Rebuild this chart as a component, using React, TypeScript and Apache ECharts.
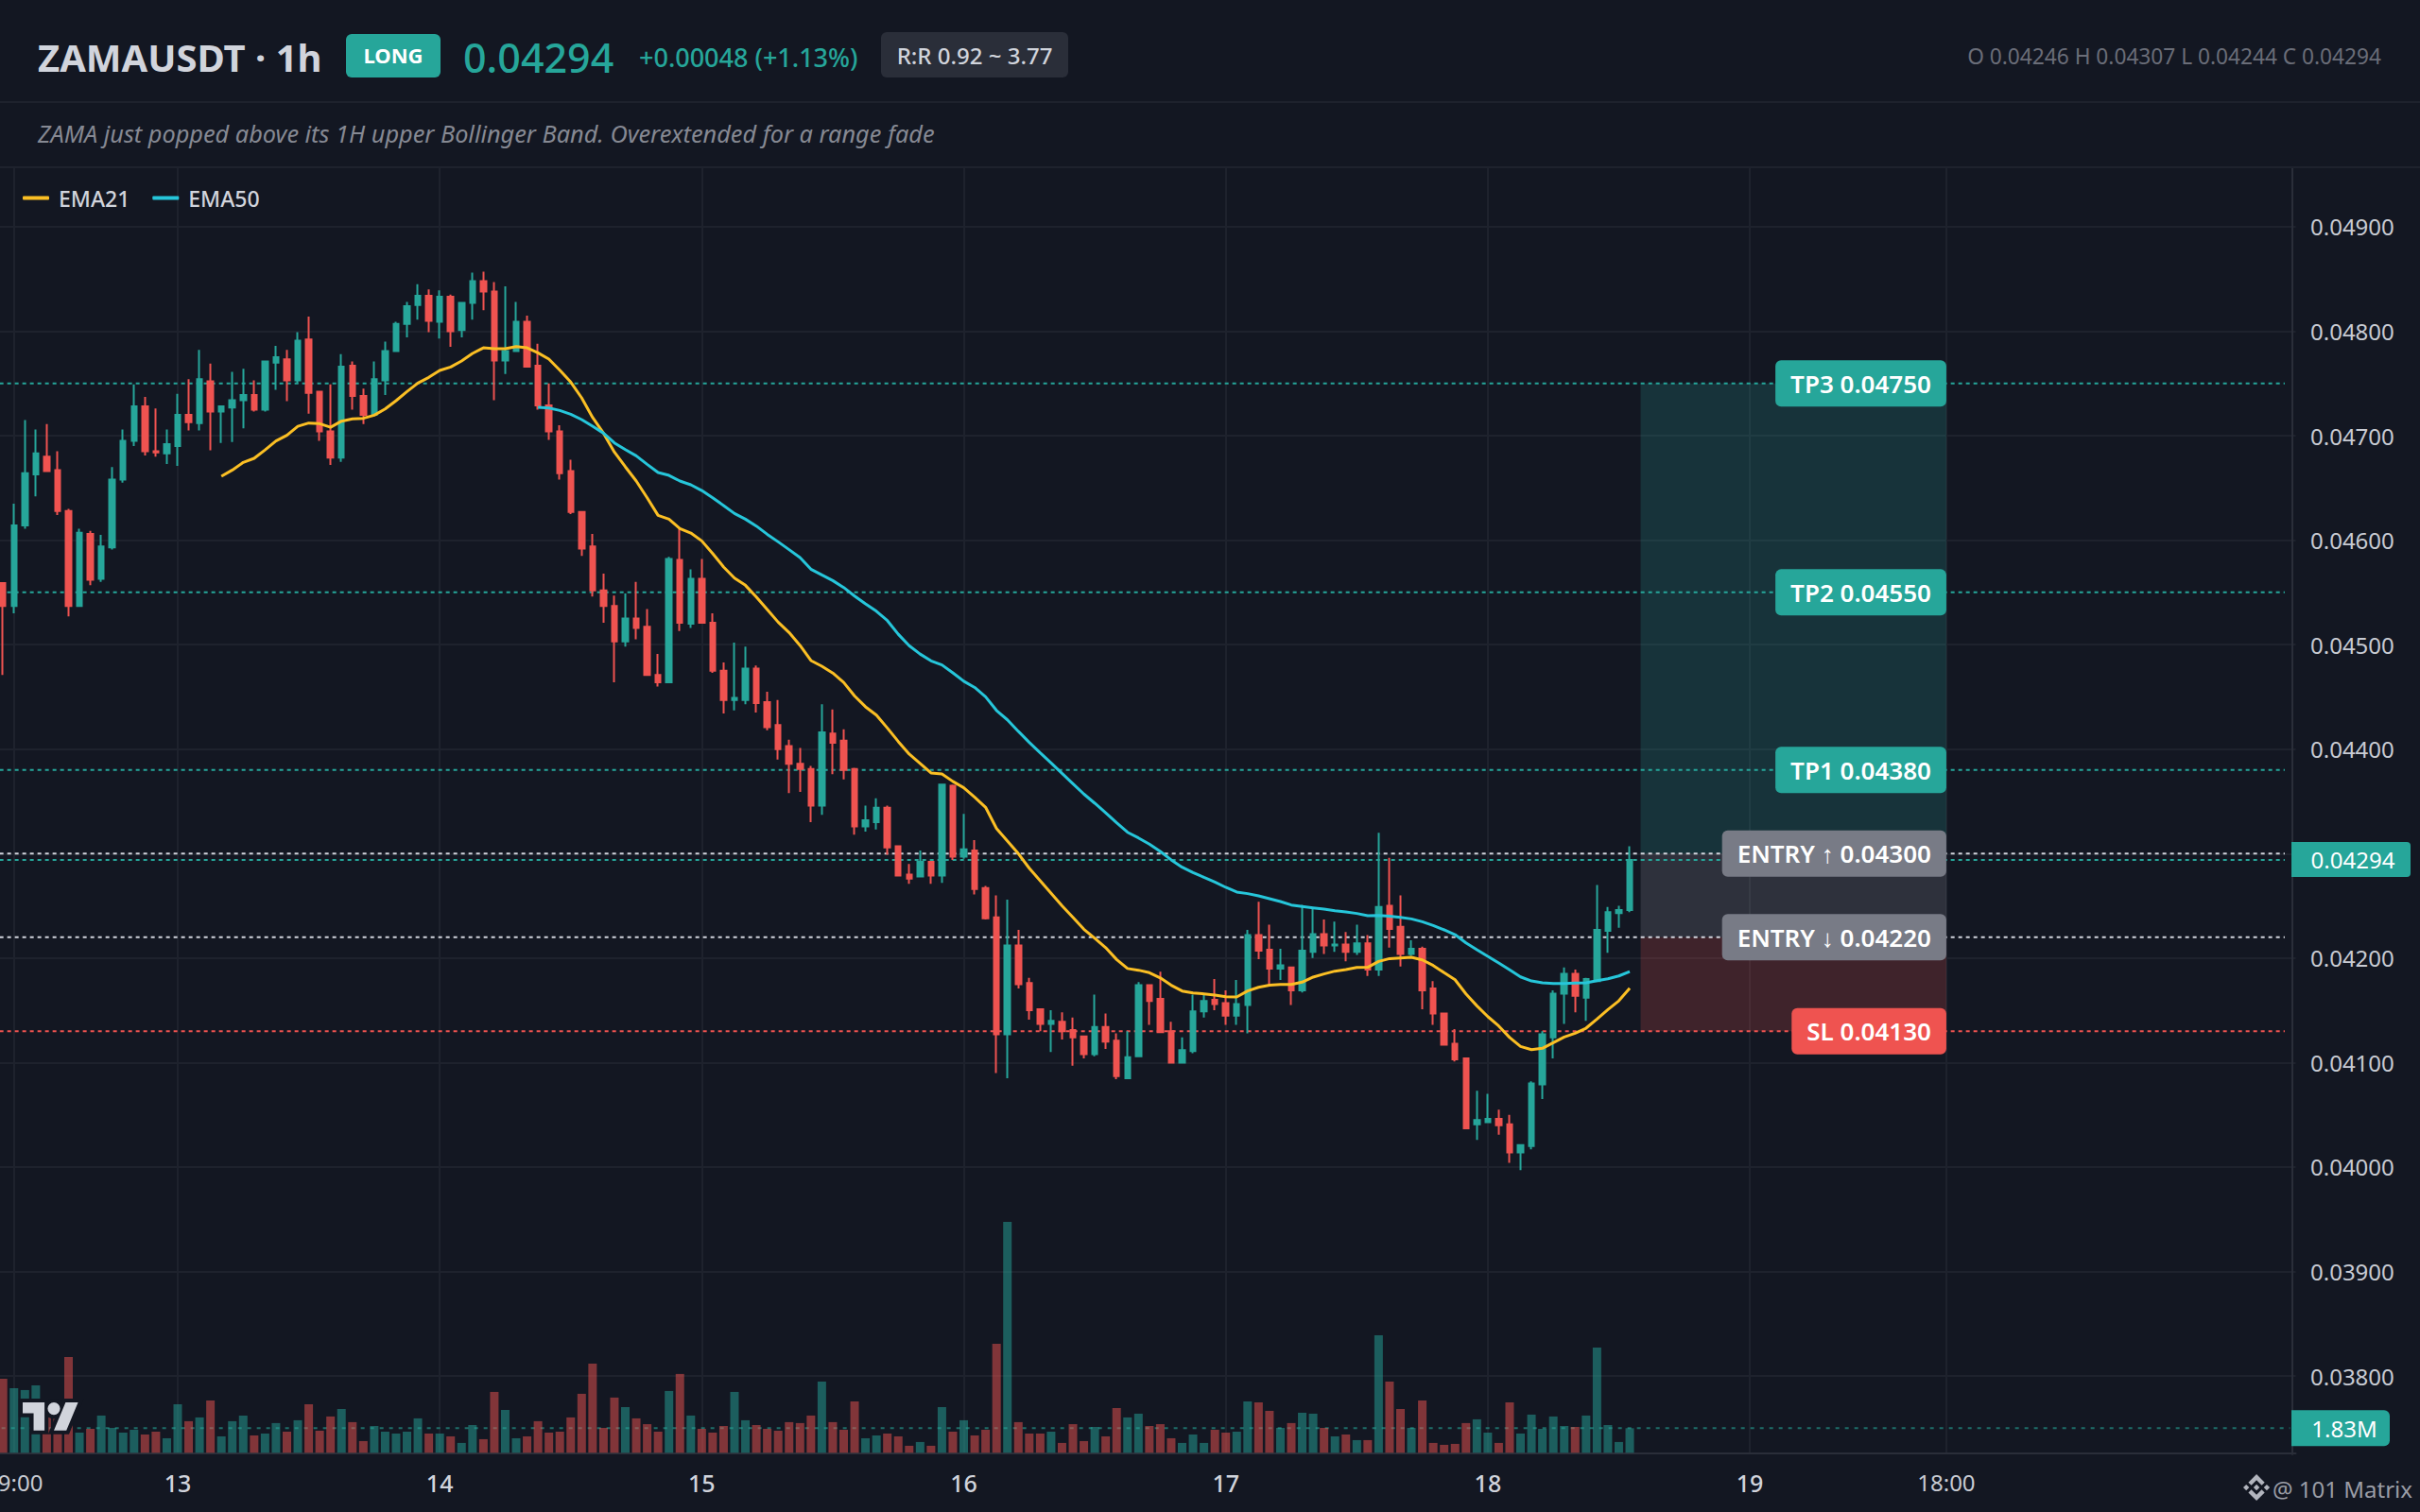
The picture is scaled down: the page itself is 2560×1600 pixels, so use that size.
import React, { useEffect, useRef } from "react";
import * as echarts from "echarts";

// ---------- data (prices in 1/100000 units, volumes in millions) ----------
const tickLabels: Record<number, string> = { 2: "09:00", 17: "13", 41: "14", 65: "15", 89: "16", 113: "17", 137: "18", 161: "19", 179: "18:00" };
const priceTicks = [3800, 3900, 4000, 4100, 4200, 4300, 4400, 4500, 4600, 4700, 4800, 4900];
const priceLabels = [3800, 3900, 4000, 4100, 4200, 4400, 4500, 4600, 4700, 4800, 4900];

// [open, high, low, close]
const ohlc: number[][] = [
[4559,4559,4471,4537],[4537,4635,4530,4614],[4614,4715,4611,4664],[4663,4706,4642,4683],[4680,4711,4666,4666],
[4667,4685,4624,4628],[4628,4630,4527,4537],[4537,4611,4537,4607],[4606,4609,4557,4562],[4563,4605,4560,4594],
[4593,4670,4591,4658],[4658,4706,4655,4695],[4695,4749,4690,4728],[4728,4737,4681,4685],[4685,4726,4680,4684],
[4683,4706,4673,4692],[4690,4740,4671,4720],[4720,4754,4705,4713],[4712,4782,4705,4754],[4752,4769,4686,4723],
[4723,4728,4693,4728],[4727,4761,4694,4734],[4734,4764,4707,4739],[4739,4753,4723,4725],[4725,4772,4723,4771],
[4770,4786,4744,4775],[4773,4782,4733,4753],[4753,4799,4750,4791],[4792,4814,4721,4741],[4742,4742,4695,4704],
[4704,4749,4672,4679],[4679,4778,4675,4766],[4767,4771,4725,4738],[4738,4745,4711,4720],[4720,4771,4719,4754],
[4753,4790,4739,4781],[4781,4809,4780,4807],[4807,4828,4794,4824],[4825,4845,4811,4834],[4834,4840,4799,4810],
[4809,4839,4793,4833],[4833,4835,4785,4800],[4801,4828,4794,4827],[4827,4856,4811,4848],[4848,4857,4820,4838],
[4838,4847,4734,4772],[4772,4843,4759,4781],[4781,4828,4780,4809],[4809,4815,4766,4766],[4767,4788,4725,4729],
[4729,4750,4696,4704],[4704,4710,4658,4664],[4666,4677,4625,4627],[4627,4628,4585,4592],[4594,4606,4546,4552],
[4552,4568,4521,4537],[4537,4547,4464,4503],[4503,4549,4498,4525],[4525,4560,4505,4516],[4517,4534,4470,4471],
[4471,4491,4460,4464],[4464,4584,4464,4582],[4581,4611,4513,4521],[4520,4572,4516,4563],[4563,4582,4521,4521],
[4521,4530,4473,4475],[4475,4483,4434,4447],[4447,4502,4437,4449],[4447,4498,4443,4477],[4477,4480,4435,4444],
[4445,4455,4418,4421],[4423,4447,4390,4400],[4403,4409,4358,4386],[4386,4401,4359,4381],[4381,4384,4330,4346],
[4346,4443,4337,4416],[4415,4438,4376,4406],[4408,4419,4371,4380],[4381,4382,4318,4326],[4326,4346,4321,4332],
[4330,4353,4323,4344],[4344,4346,4299,4306],[4307,4308,4278,4279],[4280,4290,4271,4276],[4278,4303,4278,4292],
[4292,4293,4271,4279],[4279,4367,4272,4366],[4365,4366,4294,4297],[4297,4338,4295,4304],[4303,4313,4261,4266],
[4267,4269,4237,4238],[4239,4260,4090,4127],[4127,4256,4085,4212],[4212,4227,4171,4175],[4176,4181,4141,4150],
[4151,4152,4130,4137],[4137,4150,4110,4140],[4139,4148,4122,4130],[4131,4143,4097,4124],[4125,4125,4104,4108],
[4108,4165,4106,4134],[4134,4147,4113,4120],[4121,4128,4084,4087],[4085,4130,4085,4105],[4106,4177,4106,4174],
[4174,4175,4136,4159],[4161,4187,4129,4129],[4130,4139,4100,4100],[4100,4124,4100,4112],[4111,4165,4109,4149],
[4149,4165,4143,4159],[4160,4180,4150,4156],[4157,4169,4136,4145],[4145,4179,4136,4156],[4155,4227,4128,4222],
[4222,4254,4199,4207],[4208,4232,4174,4190],[4190,4209,4179,4193],[4191,4191,4155,4169],[4169,4251,4167,4207],
[4206,4248,4200,4223],[4223,4237,4204,4212],[4212,4235,4206,4213],[4213,4225,4197,4206],[4206,4232,4203,4214],
[4214,4222,4183,4189],[4189,4320,4183,4249],[4250,4296,4210,4228],[4230,4260,4192,4204],[4204,4217,4202,4209],
[4209,4211,4151,4169],[4171,4178,4136,4147],[4147,4147,4117,4117],[4118,4132,4101,4103],[4104,4104,4037,4037],
[4041,4073,4026,4045],[4043,4070,4042,4046],[4046,4055,4031,4040],[4041,4050,4004,4014],[4014,4022,3997,4021],
[4020,4082,4017,4080],[4079,4130,4065,4127],[4124,4169,4104,4166],[4166,4191,4137,4185],[4185,4189,4148,4164],
[4162,4181,4140,4180],[4178,4270,4178,4227],[4226,4249,4205,4244],[4243,4250,4229,4246],[4246,4307,4244,4294],
];

const volumes: number[] = [
5.51,4.81,4.67,5.02,2.63,2.63,7.13,1.50,1.78,2.77,1.85,1.50,1.71,1.36,1.57,1.08,3.61,2.35,2.63,3.89,
1.22,2.35,2.77,1.29,1.43,2.21,1.57,2.42,3.61,1.64,2.70,3.26,2.28,0.87,1.99,1.57,1.43,1.57,2.56,1.43,
1.43,1.22,0.73,2.06,1.01,4.53,3.19,1.08,1.22,2.35,1.50,1.57,2.63,4.39,6.64,1.85,4.11,3.40,2.56,2.13,
1.57,4.60,5.87,2.77,1.78,1.50,1.99,4.53,2.42,2.06,1.78,1.64,2.28,2.21,2.77,5.30,2.28,1.71,3.82,1.08,
1.29,1.43,1.22,0.52,0.80,0.52,3.40,1.57,2.42,1.29,1.71,8.12,17.20,2.28,1.43,1.43,1.57,0.73,2.13,0.87,
1.92,1.22,3.33,2.63,2.91,1.99,2.13,1.08,0.73,1.36,0.73,1.71,1.50,1.57,3.82,3.75,3.12,1.85,2.21,2.98,
2.91,1.85,1.22,1.36,0.94,0.94,8.75,5.30,3.26,1.85,3.89,0.73,0.59,0.66,2.21,2.49,1.50,0.73,3.75,1.43,
2.84,1.78,2.70,1.99,1.92,2.77,7.84,2.06,0.80,1.83,
];

const ema21Start = 20;
const ema21: number[] = [
4661.1,4667.1,4674.4,4678.3,4686.4,4694.9,4700.3,4709,4712.1,4711.5,4708.1,4713.9,4716,4716.6,4719.6,4725.6,
4733.5,4742.2,4750.4,4755.8,4762.4,4765.7,4771.5,4778.7,4784.1,4783.2,4783.2,4785.3,4784.1,4779.3,4773.3,4762.7,
4751.3,4736.2,4717.5,4702.4,4684.3,4670.2,4656.6,4640.6,4623.7,4620.1,4611.1,4606.8,4599.3,4587.2,4574.3,4563.7,
4556.8,4545.6,4533.6,4521.5,4511.6,4499.3,4484.8,4479.3,4472.8,4463.8,4450.9,4440.5,4432.5,4420.2,4407.3,4395.3,
4386.3,4377.2,4376.3,4369.1,4363,4354,4344.3,4324,4312,4300,4286,4274,4262,4250,4239,4227.6,4219,4210,4198.6,4190,
4188.4,4186,4181,4174,4168.5,4166.7,4165.8,4164.6,4163,4162.8,4168.5,4172,4174,4174.8,4174.8,4177,4181.8,4184.8,
4187.5,4189,4191,4191.2,4196.8,4199.5,4200.1,4200.7,4198.3,4192.9,4186,4179.3,4165.7,4154.3,4144,4135,4124,4115.4,
4112.4,4113.6,4119,4124.4,4128,4132.9,4141.6,4150.7,4159.1,4171.2,
];

const ema50Start = 49;
const ema50: number[] = [
4727.1,4726.5,4724.1,4720.5,4715.4,4709,4702.4,4693.1,4686.7,4680.7,4672.6,4664.7,4662,4656.6,4653,4647.5,4640.6,
4633.1,4625.5,4620.1,4613.5,4605.6,4598.4,4590.9,4583.3,4572.2,4566.7,4561.3,4554.7,4546.5,4539,4532,4523,4510,
4499,4491,4484.5,4480.6,4473,4465,4459,4450,4437,4428,4417,4406.4,4396.4,4386.8,4376.8,4366.9,4357,4348.2,4339.1,
4329.5,4320.4,4315,4309,4302,4294,4287,4281.9,4277.3,4272.8,4267.7,4263.2,4261.7,4259.5,4256.8,4254.1,4250.8,
4249.3,4248.1,4246.9,4245.4,4244.2,4242.7,4240.5,4240.8,4240.2,4239,4237.5,4234.8,4231.2,4227,4222.4,4214.6,4208,
4201.6,4195.3,4188.7,4182,4178.1,4176.3,4175.7,4175.7,4176,4176.3,4178.4,4180.2,4182.9,4187.1,
];

const levelNames = ["TP3", "TP2", "TP1", "ENTRY ↑", "ENTRY ↓", "SL"];
const levelPrices = [4750, 4550, 4380, 4300, 4220, 4130];
const levelColors = ["#26a69a", "#26a69a", "#26a69a", "#787b86", "#787b86", "#ef5350"];
const levelLineColors = ["#26a69a", "#26a69a", "#26a69a", "#d1d4dc", "#d1d4dc", "#ef5350", "#26a69a"];
const zoneEdges = [4750, 4300, 4220, 4130];
const zoneColors = ["rgba(38,166,154,0.2)", "rgba(209,212,220,0.14)", "rgba(239,83,80,0.2)"];
const lastPrice = 4294;
const lastVolume = 1.83;

// ---------- layout ----------
const W = 2560, H = 1600;
const BG = "#131722";
const FONT = '"Noto Sans", sans-serif';
const UP = "#26a69a", DOWN = "#ef5350";
const STEP = 11.549;
const PAD = 1; // one blank hour before the first candle
const CATS = 212;
const ZONE_FROM = 151, ZONE_TO = 179; // category positions of the trade box
const LINE_END = 210;
const px = (v: number) => v / 100000;

const categories = Array.from({ length: CATS }, (_, j) => tickLabels[j] ?? `h${j}`);
const isTick = (j: number) => tickLabels[j] !== undefined;

echarts.graphic.registerShape("tvLogo", echarts.graphic.extendPath(
  "M14 22H7V11H0V4h14v18zM28 22h-8l7.5-18h8L28 22zM24 8a4 4 0 1 1-8 0a4 4 0 1 1 8 0z", {}));
echarts.graphic.registerShape("bnbLogo", echarts.graphic.extendPath(
  "M38.73 53.2l24.59-24.58 24.6 24.6 14.3-14.31L63.32 0 24.42 38.9l14.31 14.3zM0 63.31l14.3-14.31 14.31 14.31-14.31 14.3zM38.73 73.41l24.59 24.59 24.6-24.6 14.31 14.29-38.9 38.91-38.91-38.88-.02-.02zM97.99 63.31l14.3-14.31 14.32 14.31-14.31 14.3zM77.83 63.3L63.32 48.78 52.59 59.51l-1.24 1.23-2.54 2.54 14.51 14.5 14.51-14.47z", {}));

function txt(x: number, y: number, text: string, fill: string, size: number, weight: any = 400, extra: any = {}) {
  return {
    type: "text", z: 20,
    style: { x, y, text, fill, fontSize: size, fontWeight: weight, fontFamily: FONT, align: "left", verticalAlign: "middle", ...extra },
  };
}
function box(x: number, y: number, w: number, h: number, fill: string, r: any = 6) {
  return { type: "rect", z: 19, shape: { x, y, width: w, height: h, r }, style: { fill } };
}

export default function App() {
  const ref = useRef<HTMLDivElement>(null);
  useEffect(() => {
    document.body.style.margin = "0";
    document.body.style.background = BG;
    const chart = echarts.init(ref.current!, undefined, { renderer: "svg" });

    const candleData: any[] = [["-", "-", "-", "-"], ...ohlc.map((d) => [px(d[0]), px(d[3]), px(d[2]), px(d[1])])];
    const volumeData: any[] = ["-", ...volumes.map((v, i) => ({
      value: v,
      itemStyle: { color: ohlc[i][3] >= ohlc[i][0] ? "rgba(38,166,154,0.5)" : "rgba(239,83,80,0.5)" },
    }))];
    const pad = (n: number) => Array(n + PAD).fill("-");

    const zonesData = zoneColors.map((c, i) => [ZONE_FROM, px(zoneEdges[i]), px(zoneEdges[i + 1]), ZONE_TO, i]);
    const linesData = [...levelPrices, lastPrice].map((p, i) => [0, px(p), i]);
    const tagsData = levelPrices.map((p, i) => [ZONE_TO, px(p), i]);

    chart.setOption({
      animation: false,
      backgroundColor: BG,
      textStyle: { fontFamily: FONT },
      legend: {
        left: 24, top: 198, itemWidth: 28, itemHeight: 4, itemGap: 24, padding: 0,
        icon: "roundRect",
        data: ["EMA21", "EMA50"],
        textStyle: { color: "#d1d4dc", fontSize: 23, fontFamily: FONT, fontWeight: 500, padding: [0, 0, 0, 5] },
      },
      grid: { left: -8.34, top: 177, width: STEP * (CATS - 1), height: 1362, outerBoundsMode: "none", containLabel: false },
      xAxis: {
        type: "category", data: categories, boundaryGap: false, containShape: false,
        axisLine: { show: true, lineStyle: { color: "#2a2e39", width: 2 } },
        axisTick: { show: false },
        axisLabel: {
          interval: (j: number) => isTick(j), color: "#c8cbd3", fontSize: 24, margin: 17, fontFamily: FONT,
          hideOverlap: false,
          formatter: (v: string) => (v.includes(":") ? `{t|${v}}` : `{d|${v}}`),
          rich: {
            t: { color: "#c8cbd3", fontSize: 24, fontFamily: FONT },
            d: { color: "#d1d4dc", fontSize: 25, fontWeight: 500, fontFamily: FONT },
          },
        },
        splitLine: { show: true, interval: (j: number) => isTick(j), lineStyle: { color: "#1e222d", width: 2 } },
      },
      yAxis: [
        {
          type: "value", position: "right", offset: -3.5, min: 0.03725, max: 0.049569, scale: true,
          axisLine: { show: true, lineStyle: { color: "#2a2e39", width: 2 } },
          axisTick: { show: false, customValues: priceTicks.map(px) },
          axisLabel: {
            customValues: priceLabels.map(px), color: "#c8cbd3", fontSize: 24, margin: 19, fontFamily: FONT,
            formatter: (v: number) => v.toFixed(5),
          },
          splitLine: { show: true, lineStyle: { color: "#1e222d", width: 2 } },
        },
        {
          type: "value", position: "left", min: -0.12, max: 95.74,
          axisLine: { show: false }, axisTick: { show: false }, axisLabel: { show: false }, splitLine: { show: false },
        },
      ],
      series: [
        {
          name: "zones", type: "custom", z: 1, silent: true, data: zonesData,
          renderItem: (_: any, api: any) => {
            const a = api.coord([api.value(0), api.value(1)]);
            const b = api.coord([api.value(3), api.value(2)]);
            return {
              type: "rect",
              shape: { x: a[0], y: a[1], width: b[0] - a[0], height: b[1] - a[1] },
              style: { fill: zoneColors[api.value(4)] },
            };
          },
        },
        {
          name: "levels", type: "custom", z: 2, silent: true, data: linesData,
          renderItem: (_: any, api: any) => {
            const a = api.coord([0, api.value(1)]);
            const b = api.coord([LINE_END, api.value(1)]);
            return {
              type: "line",
              shape: { x1: a[0], y1: a[1], x2: b[0], y2: b[1] },
              style: { stroke: levelLineColors[api.value(2)], lineWidth: 2, lineDash: [4, 4] },
            };
          },
        },
        {
          name: "Volume", type: "bar", yAxisIndex: 1, z: 3, barWidth: 9, data: volumeData, silent: true,
        },
        {
          name: "volumeLine", type: "custom", yAxisIndex: 1, z: 3, silent: true, data: [[0, lastVolume]],
          renderItem: (_: any, api: any) => {
            const a = api.coord([0, api.value(1)]);
            const b = api.coord([CATS - 1, api.value(1)]);
            return {
              type: "group",
              children: [
                {
                  type: "line",
                  shape: { x1: a[0], y1: a[1], x2: b[0] - 6, y2: b[1] },
                  style: { stroke: "rgba(38,166,154,0.6)", lineWidth: 2, lineDash: [4, 6] },
                },
                {
                  type: "rect", z2: 10,
                  shape: { x: b[0] - 4.5, y: b[1] - 19, width: 104, height: 38, r: [0, 6, 6, 0] },
                  style: { fill: UP },
                },
                {
                  type: "text", z2: 11,
                  style: {
                    x: b[0] - 4.5 + 52 + 4, y: b[1], text: `${lastVolume.toFixed(2)}M`, fill: "#ffffff",
                    fontSize: 24, fontFamily: FONT, align: "center", verticalAlign: "middle",
                  },
                },
              ],
            };
          },
        },
        {
          name: "ZAMAUSDT", type: "candlestick", z: 4, barWidth: 6, data: candleData, silent: true,
          itemStyle: { color: UP, color0: DOWN, borderColor: UP, borderColor0: DOWN, borderWidth: 2 },
        },
        {
          name: "EMA21", type: "line", z: 5, data: [...pad(ema21Start), ...ema21.map(px)], showSymbol: false, silent: true,
          color: "#fbbf24", lineStyle: { width: 3, color: "#fbbf24" }, connectNulls: false,
        },
        {
          name: "EMA50", type: "line", z: 5, data: [...pad(ema50Start), ...ema50.map(px)], showSymbol: false, silent: true,
          color: "#26c6da", lineStyle: { width: 3, color: "#26c6da" }, connectNulls: false,
        },
        {
          name: "tags", type: "custom", z: 6, silent: true, data: tagsData,
          renderItem: (_: any, api: any) => {
            const i = api.value(2);
            const p = api.coord([api.value(0), api.value(1)]);
            return {
              type: "text",
              style: {
                x: p[0], y: p[1], text: `${levelNames[i]} ${(api.value(1) as number).toFixed(5)}`,
                fill: "#ffffff", fontSize: 26, fontWeight: 600, fontFamily: FONT,
                align: "right", verticalAlign: "middle",
                backgroundColor: levelColors[i], borderRadius: 6, padding: [12, 16, 11, 16],
              },
            };
          },
        },
        {
          name: "lastTag", type: "custom", z: 6, silent: true, data: [[0, px(lastPrice)]],
          renderItem: (_: any, api: any) => {
            const p = api.coord([CATS - 1, api.value(1)]);
            return {
              type: "group",
              children: [
                { type: "rect", shape: { x: p[0] - 4.5, y: p[1] - 19, width: 126, height: 37, r: [0, 4, 4, 0] }, style: { fill: UP } },
                {
                  type: "text", z2: 2,
                  style: {
                    x: p[0] - 4.5 + 65, y: p[1], text: (api.value(1) as number).toFixed(5), fill: "#ffffff",
                    fontSize: 24, fontFamily: FONT, align: "center", verticalAlign: "middle",
                  },
                },
              ],
            };
          },
        },
      ],
      graphic: [
        { type: "line", z: 18, shape: { x1: 0, y1: 108, x2: W, y2: 108 }, style: { stroke: "#1e222d", lineWidth: 2 } },
        { type: "line", z: 18, shape: { x1: 0, y1: 177, x2: W, y2: 177 }, style: { stroke: "#1e222d", lineWidth: 2 } },
        txt(40, 60, "ZAMAUSDT · 1h", "#d1d4dc", 40, 700),
        box(366, 36, 100, 46, UP),
        txt(416, 58, "LONG", "#ffffff", 22, 700, { align: "center" }),
        txt(490, 60, "0.04294", UP, 43, 500),
        txt(676, 60, "+0.00048 (+1.13%)", UP, 27, 500),
        box(932, 34, 198, 48, "#2a2e39"),
        txt(1031, 58, "R:R 0.92 ~ 3.77", "#d1d4dc", 24, 500, { align: "center" }),
        txt(2519, 59, "O 0.04246 H 0.04307 L 0.04244 C 0.04294", "#6a6d78", 22.7, 400, { align: "right" }),
        txt(40, 140.5, "ZAMA just popped above its 1H upper Bollinger Band. Overextended for a range fade", "#868993", 25.3, 400, { fontStyle: "italic" }),
        // watermark, on top of the volume bars
        { type: "tvLogo", z: 16, x: 24, y: 1477.4, scaleX: 1.65, scaleY: 1.65, style: { fill: BG, stroke: BG, lineWidth: 5 } },
        { type: "tvLogo", z: 17, x: 24, y: 1477.4, scaleX: 1.65, scaleY: 1.65, style: { fill: "#d1d4dc" } },
        { type: "bnbLogo", z: 17, x: 2373, y: 1560, scaleX: 0.222, scaleY: 0.222, style: { fill: "#b2b5be" } },
        txt(2404, 1575, "@ 101 Matrix", "#9a9da6", 24, 400),
      ],
    });
    return () => chart.dispose();
  }, []);
  return <div ref={ref} style={{ position: "absolute", left: 0, top: 0, width: W, height: H }} />;
}
